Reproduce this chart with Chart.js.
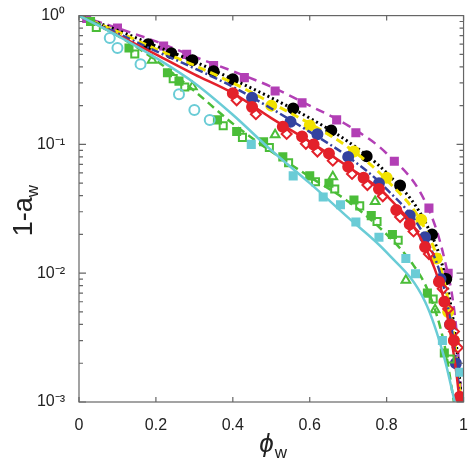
<!DOCTYPE html>
<html><head><meta charset="utf-8">
<script src="https://cdn.jsdelivr.net/npm/chart.js@4/dist/chart.umd.min.js"></script>
<style>html,body{margin:0;padding:0;background:#fff}#c{display:block}</style>
</head><body><canvas id="c" width="474" height="474"></canvas>
<script>
// line data
const magLineX=[0,0.1,0.2,0.3,0.4,0.5,0.6,0.7,0.8,0.9,0.95,0.98,0.995];
const magLineY=[1,0.8,0.63,0.48,0.37,0.28,0.2,0.14,0.085,0.036,0.013,0.004,0.001];
const blkLineX=[0,0.1,0.2,0.3,0.4,0.5,0.6,0.7,0.8,0.9,0.95,0.98,0.995];
const blkLineY=[1,0.77,0.58,0.44,0.32,0.23,0.16,0.105,0.06,0.025,0.01,0.003,0.001];
const yelLineX=[0,0.1,0.2,0.3,0.4,0.5,0.6,0.7,0.8,0.9,0.95,0.98,0.993];
const yelLineY=[1,0.75,0.55,0.41,0.3,0.21,0.145,0.095,0.053,0.022,0.0085,0.0025,0.001];
const bluLineX=[0,0.1,0.2,0.3,0.4,0.5,0.6,0.7,0.8,0.9,0.95,0.98,0.992];
const bluLineY=[1,0.73,0.53,0.39,0.28,0.19,0.125,0.08,0.045,0.019,0.0075,0.0022,0.001];
const redLineX=[0,0.1,0.2,0.3,0.4,0.5,0.6,0.7,0.8,0.9,0.95,0.98,0.99];
const redLineY=[1,0.71,0.5,0.35,0.25,0.16,0.105,0.067,0.04,0.016,0.006,0.0018,0.001];
const grnLineX=[0,0.1,0.2,0.3,0.4,0.5,0.6,0.7,0.8,0.87,0.91,0.95,0.975];
const grnLineY=[1,0.7,0.45,0.26,0.145,0.088,0.056,0.036,0.02,0.0115,0.007,0.0028,0.001];
const cyaLineX=[0,0.1,0.2,0.3,0.4,0.5,0.6,0.7,0.8,0.9,0.95,0.977];
const cyaLineY=[1,0.7,0.47,0.3,0.17,0.09,0.05,0.027,0.0145,0.006,0.0022,0.001];
// marker data
const magPtsX=[0.02,0.1,0.22,0.28,0.35,0.43,0.51,0.58,0.67,0.72,0.82,0.91,0.96];
const magPtsY=[0.95,0.8,0.58,0.5,0.41,0.33,0.26,0.21,0.155,0.123,0.074,0.032,0.01];
const blkPtsX=[0.18,0.24,0.295,0.35,0.40,0.557,0.656,0.748,0.835,0.918,0.955];
const blkPtsY=[0.6,0.51,0.45,0.37,0.32,0.19,0.128,0.081,0.048,0.02,0.009];
const yelPtsX=[0.5,0.6,0.715,0.8,0.89,0.93,0.96,0.975];
const yelPtsY=[0.2,0.14,0.088,0.055,0.026,0.013,0.005,0.003];
const bluPtsX=[0.45,0.55,0.62,0.70,0.78,0.86,0.90,0.94,0.965,0.98];
const bluPtsY=[0.23,0.15,0.12,0.08,0.05,0.028,0.019,0.009,0.004,0.002];
const redPtsX=[0.40,0.45,0.53,0.58,0.61,0.65,0.70,0.74,0.78,0.825,0.86,0.90,0.936,0.95,0.965,0.975,0.99];
const redPtsY=[0.25,0.195,0.137,0.115,0.1,0.085,0.067,0.055,0.045,0.031,0.024,0.016,0.0086,0.006,0.004,0.003,0.0011];
const grnPtsX=[0.03,0.13,0.23,0.26,0.36,0.41,0.48,0.53,0.6,0.65,0.715,0.76,0.815,0.906,0.95];
const grnPtsY=[0.9,0.56,0.36,0.31,0.155,0.126,0.105,0.08,0.057,0.05,0.037,0.028,0.02,0.007,0.0024];
const grnTriX=[0.19,0.295,0.51,0.66,0.77,0.85,0.926];
const grnTriY=[0.45,0.28,0.119,0.056,0.036,0.0088,0.0052];
const cyaCircX=[0.08,0.1,0.16,0.26,0.3,0.34];
const cyaCircY=[0.67,0.56,0.42,0.245,0.185,0.155];
const cyaSqX=[0.448,0.557,0.635,0.68,0.72,0.78,0.85,0.875,0.945,0.99];
const cyaSqY=[0.1,0.057,0.039,0.034,0.025,0.019,0.013,0.0099,0.003,0.0017];
const xTicks=[0,0.2,0.4,0.6,0.8,1];
const xTickLabels=['0','0.2','0.4','0.6','0.8','1'];
const yTicks=[1,0.1,0.01,0.001];
const yTickLabels=['10⁰','10⁻¹','10⁻²','10⁻³'];

const C={mag:'#b23fb5',blk:'#000000',yel:'#f2e200',blu:'#3443a0',red:'#e3212a',grn:'#4bbd38',cya:'#6accd6'};
const zip=(xs,ys)=>xs.map((x,i)=>({x,y:ys[i]}));
function line(xs,ys,col,dash,w){return{data:zip(xs,ys),showLine:true,borderColor:col,borderWidth:w||2.5,borderDash:dash,pointRadius:0,cubicInterpolationMode:'monotone',fill:false};}
function pts(xs,ys,col,style,filled){return{data:zip(xs,ys),showLine:false,pointStyle:style,pointRadius:5,borderColor:col,borderWidth:2,pointBackgroundColor:filled?col:'rgba(0,0,0,0)'};}
const ds=[
 pts(cyaCircX,cyaCircY,C.cya,'circle',false),
 pts(cyaSqX,cyaSqY,C.cya,'rect',true),
 line(cyaLineX,cyaLineY,C.cya,[],2.5),
 pts(grnPtsX,grnPtsY,C.grn,'rect',true),
 pts(grnPtsX.map(v=>v+0.015),grnPtsY.map(v=>v*0.9),C.grn,'rect',false),
 pts(grnTriX,grnTriY,C.grn,'triangle',false),
 line(grnLineX,grnLineY,C.grn,[8,5],2.5),
 pts(redPtsX,redPtsY,C.red,'circle',true),
 pts(redPtsX.map(v=>v+0.01),redPtsY.map(v=>v*0.88),C.red,'rectRot',false),
 line(redLineX,redLineY,C.red,[],2.5),
 pts(bluPtsX,bluPtsY,C.blu,'circle',true),
 line(bluLineX,bluLineY,C.blu,[8,3,2,3],2.5),
 pts(yelPtsX,yelPtsY,C.yel,'circle',true),
 line(yelLineX,yelLineY,C.yel,[8,5],3),
 pts(blkPtsX,blkPtsY,C.blk,'circle',true),
 line(blkLineX,blkLineY,C.blk,[2,3],3),
 pts(magPtsX,magPtsY,C.mag,'rect',true),
 line(magLineX,magLineY,C.mag,[9,6],2.5),
];
const FONT='"Liberation Sans", Arial, sans-serif';
const frame={id:'frame',afterDraw(ch){
 const c=ch.ctx,a=ch.chartArea,xs=ch.scales.x,ys=ch.scales.y;
 c.save();c.strokeStyle='#666';c.lineWidth=1.2;
 c.strokeRect(a.left,a.top,a.right-a.left,a.bottom-a.top);
 xTicks.forEach(v=>{const p=xs.getPixelForValue(v);c.beginPath();c.moveTo(p,a.bottom);c.lineTo(p,a.bottom-5);c.moveTo(p,a.top);c.lineTo(p,a.top+5);c.stroke();});
 for(let e=-3;e<0;e++)for(let m=1;m<10;m++){const v=m*Math.pow(10,e);const p=ys.getPixelForValue(v);const L=m===1?7:4;
  c.beginPath();c.moveTo(a.left,p);c.lineTo(a.left+L,p);c.moveTo(a.right,p);c.lineTo(a.right-L,p);c.stroke();}
 c.fillStyle='#222';c.textBaseline='alphabetic';
 const tx=(a.left+a.right)/2-12,ty=452;
 c.font='italic 26px '+FONT;c.textAlign='left';c.fillText('ϕ',tx,ty);const w=c.measureText('ϕ').width;
 c.font='17px '+FONT;c.fillText('w',tx+w+1,ty+6);
 c.translate(32,(a.top+a.bottom)/2);c.rotate(-Math.PI/2);
 c.font='27px '+FONT;const s='1-a';const sw=c.measureText(s).width;
 c.fillText(s,-sw/2-8,0);c.font='17px '+FONT;c.fillText('w',sw/2-8,6);
 c.restore();}};
new Chart(document.getElementById('c'),{type:'scatter',data:{datasets:ds},plugins:[frame],
 options:{responsive:false,animation:false,events:[],layout:{padding:{top:9,right:2,left:0,bottom:0}},
  plugins:{legend:{display:false},tooltip:{enabled:false}},
  scales:{
   x:{type:'linear',min:0,max:1,afterFit(s){s.height=72;},afterBuildTicks(s){s.ticks=xTicks.map(v=>({value:v}));},
      grid:{display:false},border:{display:false},
      ticks:{callback:(v)=>{const i=xTicks.indexOf(v);return i<0?'':xTickLabels[i];},color:'#222',font:{size:16,family:FONT},padding:6}},
   y:{type:'logarithmic',min:0.001,max:1,afterFit(s){s.width=79;},afterBuildTicks(s){s.ticks=yTicks.map(v=>({value:v}));},
      grid:{display:false},border:{display:false},
      ticks:{callback:(v)=>{const i=yTicks.indexOf(v);return i<0?'':yTickLabels[i];},color:'#222',font:{size:16,family:FONT},padding:6}}
  }}});
</script></body></html>
